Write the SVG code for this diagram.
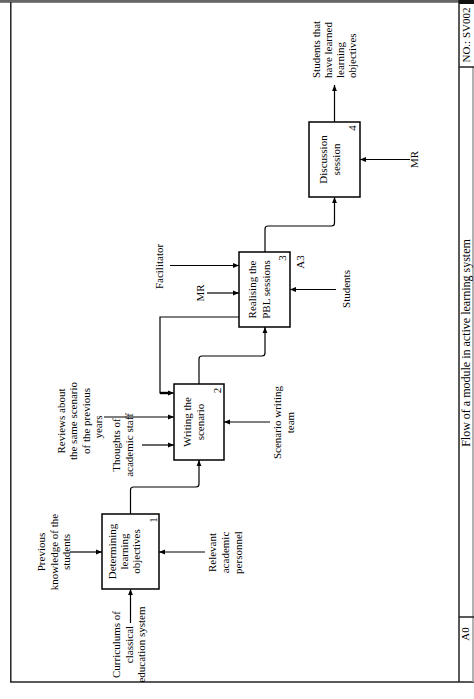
<svg xmlns="http://www.w3.org/2000/svg" width="474" height="699" viewBox="0 0 474 699">
<style>
text{font-family:"Liberation Serif","Times New Roman",serif;font-size:11px;fill:#000}
.title{font-size:12px}
.box{fill:#fff;stroke:#000;stroke-width:1.5}
.ln{fill:none;stroke:#000;stroke-width:1.2}
.ar{marker-end:url(#ah)}
.frame{fill:none;stroke:#222;stroke-width:1.5}
</style>
<defs>
<marker id="ah" viewBox="0 0 10 10" refX="10" refY="5" markerWidth="6" markerHeight="6" orient="auto" markerUnits="userSpaceOnUse">
<path d="M0,1 L10,5 L0,9 z" fill="#000"/>
</marker>
</defs>
<rect width="474" height="699" fill="#fff"/>
<g id="frame">
<rect x="0" y="0" width="474" height="2.8" fill="#666"/>
<line class="frame" x1="10.8" y1="2" x2="10.8" y2="682"/>
<line class="frame" x1="10" y1="682" x2="474" y2="682"/>
<line class="frame" x1="459" y1="0" x2="459" y2="682"/>
<line x1="473" y1="67" x2="473" y2="682" stroke="#999" stroke-width="1.5"/>
<rect x="459" y="0" width="15" height="4" fill="#111"/>
<line class="frame" x1="459" y1="67" x2="474" y2="67"/>
<line class="frame" x1="459" y1="617" x2="474" y2="617"/>
<text transform="rotate(-90 469.5 35)" x="469.5" y="35" text-anchor="middle">NO.:  SV002</text>
<text class="title" transform="rotate(-90 470 343)" x="470" y="343" text-anchor="middle">Flow of a module in active learning system</text>
<text transform="rotate(-90 469 634)" x="469" y="634" text-anchor="middle">A0</text>
</g>
<g id="connectors">
<path class="ln ar" d="M130.5,623 V589"/>
<path class="ln ar" d="M70,552 H102"/>
<path class="ln ar" d="M205,552 H159"/>
<path class="ln ar" d="M130.5,514 V490 Q130.5,487 133.5,487 H196 Q199,487 199,484 V460"/>
<path class="ln ar" d="M104,417 H174"/>
<path class="ln ar" d="M142,445 H174"/>
<path class="ln ar" d="M270,422 H224"/>
<path class="ln ar" d="M199,384 V359 Q199,356 202,356 H262 Q265,356 265,353 V327"/>
<path class="ln ar" d="M239,317 H160 V393 H174"/>
<path d="M160,393 H170" stroke="#000" stroke-width="2.4"/>
<path class="ln ar" d="M170,265.5 H239"/>
<path class="ln ar" d="M207,293 H239"/>
<path class="ln ar" d="M336,289.5 H290"/>
<path class="ln ar" d="M265,252 V229 Q265,226 268,226 H331.5 Q334.5,226 334.5,223 V197"/>
<path class="ln ar" d="M334.5,122 V85"/>
<path class="ln ar" d="M410,159.5 H360"/>
</g>
<g id="node1">
<rect class="box" x="102" y="514" width="57" height="75"/>
<text transform="rotate(-90 116 551.5)" x="116" y="551.5" text-anchor="middle">Determining<tspan x="116" dy="12">learning</tspan><tspan x="116" dy="12">objectives</tspan></text>
<text transform="rotate(-90 157 520)" x="157" y="520" text-anchor="middle">1</text>
</g>
<g id="node2">
<rect class="box" x="174" y="384" width="50" height="76"/>
<text transform="rotate(-90 191 422)" x="191" y="422" text-anchor="middle">Writing the<tspan x="191" dy="13">scenario</tspan></text>
<text transform="rotate(-90 221 390.5)" x="221" y="390.5" text-anchor="middle">2</text>
</g>
<g id="node3">
<rect class="box" x="239" y="252" width="51" height="75"/>
<text transform="rotate(-90 256 289.5)" x="256" y="289.5" text-anchor="middle">Realising the<tspan x="256" dy="13.5">PBL sessions</tspan></text>
<text transform="rotate(-90 286 258)" x="286" y="258" text-anchor="middle">3</text>
<text transform="rotate(-90 303.5 262)" x="303.5" y="262" text-anchor="middle">A3</text>
</g>
<g id="node4">
<rect class="box" x="309" y="122" width="51" height="75"/>
<text transform="rotate(-90 327 159.5)" x="327" y="159.5" text-anchor="middle">Discussion<tspan x="327" dy="13">session</tspan></text>
<text transform="rotate(-90 356 128)" x="356" y="128" text-anchor="middle">4</text>
</g>
<g id="labels">
<text transform="rotate(-90 45 552)" x="45" y="552" text-anchor="middle">Previous<tspan x="45" dy="12.5">knowledge of the</tspan><tspan x="45" dy="12.5">students</tspan></text>
<text transform="rotate(-90 120 644.5)" x="120" y="644.5" text-anchor="middle">Curriculums of<tspan x="120" dy="12.5">classical</tspan><tspan x="120" dy="12.5">education system</tspan></text>
<text transform="rotate(-90 216 552.5)" x="216" y="552.5" text-anchor="middle">Relevant<tspan x="216" dy="13">academic</tspan><tspan x="216" dy="13">personnel</tspan></text>
<text transform="rotate(-90 65 421)" x="65" y="421" text-anchor="middle">Reviews about<tspan x="65" dy="12.3">the same scenario</tspan><tspan x="65" dy="12.3">of the previous</tspan><tspan x="59" dy="12.3">years</tspan></text>
<text transform="rotate(-90 120 445)" x="120" y="445" text-anchor="middle">Thoughts of<tspan x="120" dy="12.5">academic staff</tspan></text>
<text transform="rotate(-90 281 422.5)" x="281" y="422.5" text-anchor="middle">Scenario writing<tspan x="281" dy="13">team</tspan></text>
<text transform="rotate(-90 163 266.5)" x="163" y="266.5" text-anchor="middle">Facilitator</text>
<text transform="rotate(-90 204 293)" x="204" y="293" text-anchor="middle">MR</text>
<text transform="rotate(-90 350 289)" x="350" y="289" text-anchor="middle">Students</text>
<text transform="rotate(-90 320 78)" x="320" y="78">Students that<tspan x="320" dy="12">have learned</tspan><tspan x="320" dy="12">learning</tspan><tspan x="320" dy="12">objectives</tspan></text>
<text transform="rotate(-90 418 159.5)" x="418" y="159.5" text-anchor="middle">MR</text>
</g>
</svg>
